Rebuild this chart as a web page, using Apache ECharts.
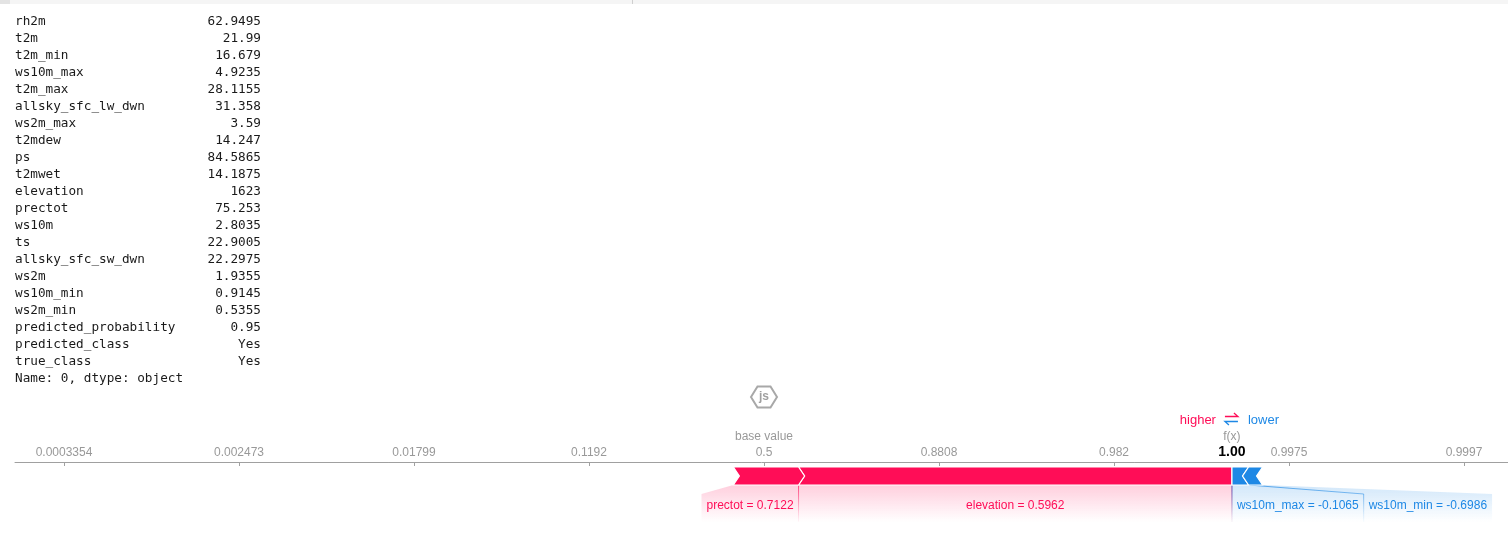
<!DOCTYPE html>
<html><head><meta charset="utf-8">
<script src="https://cdn.jsdelivr.net/npm/echarts@6/dist/echarts.min.js"></script>
<style>html,body{margin:0;padding:0;background:#fff}#c{width:1508px;height:535px}</style>
</head><body><div id="c"></div>
<script>
// ---- printed pandas Series ----
const rowNames = ['rh2m','t2m','t2m_min','ws10m_max','t2m_max','allsky_sfc_lw_dwn','ws2m_max','t2mdew','ps','t2mwet','elevation','prectot','ws10m','ts','allsky_sfc_sw_dwn','ws2m','ws10m_min','ws2m_min','predicted_probability','predicted_class','true_class'];
const rowValues = ['62.9495','21.99','16.679','4.9235','28.1155','31.358','3.59','14.247','84.5865','14.1875','1623','75.253','2.8035','22.9005','22.2975','1.9355','0.9145','0.5355','0.95','Yes','Yes'];
const seriesFooter = 'Name: 0, dtype: object';

// ---- force plot (logit space) ----
const baseValue = 0;
const outValueText = '1.00';
const shapNames = ['prectot','elevation','ws10m_max','ws10m_min'];
const shapValues = [0.745, 4.953, -0.19, -0.16];
const shapDisplay = ['0.7122','0.5962','-0.1065','-0.6986'];
const tickValues = [-8,-6,-4,-2,0,2,4,6,8];
const tickLabels = ['0.0003354','0.002473','0.01799','0.1192','0.5','0.8808','0.982','0.9975','0.9997'];

const RED = '#ff0d57', BLUE = '#1e88e5', GREY = '#999';
const SANS = '"Liberation Sans", Arial, Helvetica, sans-serif';
const MONO = '"DejaVu Sans Mono", "Liberation Mono", monospace';

const fx = baseValue + shapValues.reduce((a, b) => a + b, 0);
const segs = [];
const posIdx = shapValues.map((v, i) => i).filter(i => shapValues[i] > 0).sort((a, b) => shapValues[b] - shapValues[a]);
const negIdx = shapValues.map((v, i) => i).filter(i => shapValues[i] < 0).sort((a, b) => shapValues[a] - shapValues[b]);
let cur = fx;
posIdx.forEach((i, k) => { segs.push({ i, x0: cur - shapValues[i], x1: cur, pos: true, k }); cur -= shapValues[i]; });
cur = fx;
negIdx.forEach((i, k) => { segs.push({ i, x0: cur, x1: cur - shapValues[i], pos: false, k }); cur -= shapValues[i]; });

const mctx = document.createElement('canvas').getContext('2d');
mctx.font = '12px ' + SANS;
const labelText = i => shapNames[i] + ' = ' + shapDisplay[i];
const textW = i => mctx.measureText(labelText(i)).width;

function layoutBoxes(api) {
  const boxes = {};
  let edge = Infinity;
  segs.filter(s => s.pos).sort((p, q) => p.k - q.k).forEach(s => {
    const a = api.coord([s.x0, 0])[0], b = api.coord([s.x1, 0])[0];
    const w = Math.max(b - a, textW(s.i) + 10);
    const r = Math.min(b, edge);
    boxes[s.i] = { a, b, l: r - w, r };
    edge = r - w;
  });
  edge = -Infinity;
  segs.filter(s => !s.pos).sort((p, q) => p.k - q.k).forEach(s => {
    const a = api.coord([s.x0, 0])[0], b = api.coord([s.x1, 0])[0];
    const w = Math.max(b - a, textW(s.i) + 10);
    const l = Math.max(a, edge);
    boxes[s.i] = { a, b, l, r: l + w };
    edge = l + w;
  });
  return boxes;
}

const chart = echarts.init(document.getElementById('c'));

const graphics = [
  { type: 'rect', shape: { x: 0, y: 0, width: 1508, height: 4 }, style: { fill: '#f5f5f5' } },
  { type: 'rect', shape: { x: 0, y: 0, width: 10, height: 4 }, style: { fill: '#e3e3e3' } },
  { type: 'rect', shape: { x: 632, y: 0, width: 1, height: 4 }, style: { fill: '#cfcfcf' } },
  { type: 'polygon', shape: { points: [[751, 397], [757.5, 386.5], [770.5, 386.5], [777, 397], [770.5, 407.5], [757.5, 407.5]] },
    style: { fill: 'none', stroke: '#a8a8a8', lineWidth: 2 } },
  { type: 'text', style: { text: 'js', x: 764, y: 396.5, font: 'bold 12px ' + SANS, fill: '#a0a0a0',
    align: 'center', verticalAlign: 'middle', textAlign: 'center', textVerticalAlign: 'middle' } }
];
rowNames.forEach((n, r) => {
  const y = 21.5 + 17 * r;
  graphics.push({ type: 'text', style: { text: n, x: 15, y, font: '12.7px ' + MONO, fill: '#1a1a1a',
    align: 'left', verticalAlign: 'middle', textAlign: 'left', textVerticalAlign: 'middle' } });
  graphics.push({ type: 'text', style: { text: rowValues[r], x: 261, y, font: '12.7px ' + MONO, fill: '#1a1a1a',
    align: 'right', verticalAlign: 'middle', textAlign: 'right', textVerticalAlign: 'middle' } });
});
graphics.push({ type: 'text', style: { text: seriesFooter, x: 15, y: 21.5 + 17 * rowNames.length, font: '12.7px ' + MONO, fill: '#1a1a1a',
  align: 'left', verticalAlign: 'middle', textAlign: 'left', textVerticalAlign: 'middle' } });

function txt(text, x, y, font, fill, align) {
  return { type: 'text', style: { text, x, y, font, fill, align, verticalAlign: 'middle', textAlign: align, textVerticalAlign: 'middle' } };
}

chart.setOption({
  animation: false,
  grid: { left: 15, right: 0, top: 462, height: 60 },
  xAxis: {
    type: 'value', position: 'top', min: -8.56, max: 8.503,
    axisLine: { onZero: false, lineStyle: { color: '#a0a0a0', width: 1 } },
    axisTick: { inside: true, length: 4, customValues: tickValues, lineStyle: { color: '#a0a0a0' } },
    axisLabel: { customValues: tickValues, margin: 3, color: GREY, fontSize: 12, fontFamily: SANS,
      formatter: v => { const j = tickValues.indexOf(v); return j >= 0 ? tickLabels[j] : ''; } },
    splitLine: { show: false }
  },
  yAxis: { type: 'value', min: 0, max: 1, show: false },
  graphic: graphics,
  series: [
    { // label backings + text
      type: 'custom', clip: false, silent: true, z: 1,
      data: segs.map(s => [s.x0, s.x1]),
      renderItem: (params, api) => {
        const s = segs[params.dataIndex];
        const bx = layoutBoxes(api)[s.i];
        const gy = params.coordSys.y;
        const bot = gy + 23, bTop = gy + 32, bBot = gy + 60;
        const col = s.pos ? '255,13,87' : '30,136,229';
        const fill = new echarts.graphic.LinearGradient(0, 0, 0, 1, [
          { offset: 0, color: 'rgba(' + col + ',0.2)' }, { offset: 1, color: 'rgba(' + col + ',0)' }]);
        const lineCol = new echarts.graphic.LinearGradient(0, 0, 0, 1, [
          { offset: 0, color: 'rgba(' + col + ',0.75)' }, { offset: 0.75, color: 'rgba(' + col + ',0.15)' }, { offset: 1, color: 'rgba(' + col + ',0)' }]);
        const edge = s.pos ? [[bx.b, bot], [bx.r, bTop], [bx.r, bBot]] : [[bx.a, bot], [bx.l, bTop], [bx.l, bBot]];
        return { type: 'group', children: [
          { type: 'polygon', shape: { points: [[bx.a, bot], [bx.b, bot], [bx.r, bTop], [bx.r, bBot], [bx.l, bBot], [bx.l, bTop]] },
            style: { fill } },
          { type: 'polyline', shape: { points: edge }, style: { stroke: lineCol, lineWidth: 1, fill: 'none' } },
          txt(labelText(s.i), (bx.l + bx.r) / 2, bTop + 11.5, '12px ' + SANS, s.pos ? RED : BLUE, 'center')
        ] };
      }
    },
    { // force bars
      type: 'custom', clip: false, silent: true, z: 3,
      data: segs.map(s => [s.x0, s.x1]),
      renderItem: (params, api) => {
        const s = segs[params.dataIndex];
        const a = api.coord([api.value(0), 0])[0], b = api.coord([api.value(1), 0])[0];
        const top = params.coordSys.y + 5, bot = top + 18, mid = top + 9, h = 6;
        let pts;
        if (s.pos) {
          pts = [[a, top], [b, top]];
          if (s.k > 0) pts.push([b + h, mid]);
          pts.push([b, bot], [a, bot], [a + h, mid]);
        } else {
          pts = [[a, top], [b, top], [b - h, mid], [b, bot], [a, bot]];
          if (s.k > 0) pts.push([a - h, mid]);
        }
        return { type: 'polygon', shape: { points: pts },
          style: { fill: s.pos ? RED : BLUE, stroke: '#fff', lineWidth: 1.2 } };
      }
    },
    { // annotations: base value and f(x)
      type: 'custom', clip: false, silent: true, z: 4,
      data: [[baseValue, 0], [fx, 1]],
      renderItem: (params, api) => {
        const x = api.coord([api.value(0), 0])[0];
        const gy = params.coordSys.y;
        if (api.value(1) === 0) {
          return txt('base value', x, gy - 25, '12px ' + SANS, GREY, 'center');
        }
        const ay1 = gy - 45.5, ay2 = gy - 40.5;
        return { type: 'group', children: [
          txt('f(x)', x, gy - 25, '12px ' + SANS, GREY, 'center'),
          txt(outValueText, x, gy - 9.5, 'bold 14px ' + SANS, '#000', 'center'),
          txt('higher', x - 16, gy - 42, '13px ' + SANS, RED, 'right'),
          txt('lower', x + 16, gy - 42, '13px ' + SANS, BLUE, 'left'),
          { type: 'polyline', shape: { points: [[x - 7, ay1], [x + 6, ay1], [x + 2, ay1 - 3.5]] }, style: { stroke: RED, lineWidth: 1.3, fill: 'none' } },
          { type: 'polyline', shape: { points: [[x - 3, ay2 + 3.5], [x - 7, ay2], [x + 6, ay2]] }, style: { stroke: BLUE, lineWidth: 1.3, fill: 'none' } }
        ] };
      }
    }
  ]
});
</script>
</body></html>
